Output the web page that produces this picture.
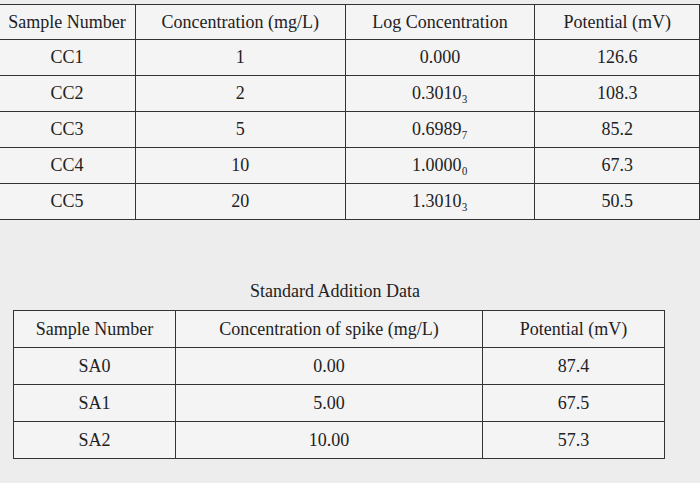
<!DOCTYPE html>
<html><head><meta charset="utf-8">
<script src="https://cdn.jsdelivr.net/npm/chart.js@4"></script>
<style>
body{margin:0;width:700px;height:483px;background:#ededee;font-family:"Liberation Serif",serif;color:#222;overflow:hidden;position:relative}
table{position:absolute;border-collapse:collapse;font-size:18px}
td{border:1.5px solid #333;text-align:center;padding:0;background:#f4f4f5}
#title{position:absolute;left:175px;top:281px;width:320px;text-align:center;font-size:18px}
</style></head><body>
<table id="t1" style="left:-2px;top:4px;width:702px"></table>
<div id="title">Standard Addition Data</div>
<table id="t2" style="left:13px;top:310px;width:652px"></table>
<script>
const headers1=["Sample Number","Concentration (mg/L)","Log Concentration","Potential (mV)"];
const samples1=["CC1","CC2","CC3","CC4","CC5"];
const conc1=["1","2","5","10","20"];
const logConc=["0.000","0.3010₃","0.6989₇","1.0000₀","1.3010₃"];
const pot1=["126.6","108.3","85.2","67.3","50.5"];
const headers2=["Sample Number","Concentration of spike (mg/L)","Potential (mV)"];
const samples2=["SA0","SA1","SA2"];
const spike=["0.00","5.00","10.00"];
const pot2=["87.4","67.5","57.3"];
function build(id,hdr,cols,widths,heights){
  const t=document.getElementById(id);let h='<tr>';
  hdr.forEach((x,i)=>h+=`<td style="width:${widths[i]}px;height:${heights[0]}px">${x}</td>`);h+='</tr>';
  cols[0].forEach((_,r)=>{h+='<tr>';cols.forEach(c=>h+=`<td style="height:${heights[1]}px">${c[r]}</td>`);h+='</tr>';});
  t.innerHTML=h;
}
build('t1',headers1,[samples1,conc1,logConc,pot1],[137,210,190,165],[34,35]);
build('t2',headers2,[samples2,spike,pot2],[162,308,182],[36,36]);
</script></body></html>
